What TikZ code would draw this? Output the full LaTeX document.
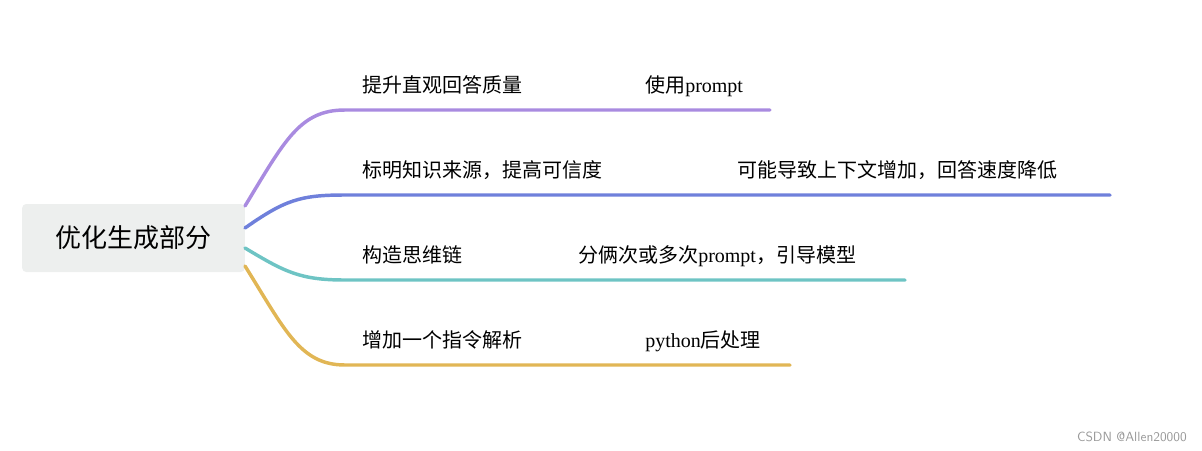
\documentclass[tikz,border=0pt]{standalone}
\usepackage{fontspec}
\setmainfont{Liberation Serif}
\newfontfamily\cjk{Noto Sans CJK SC}
\begin{document}
\begin{tikzpicture}[x=0.75pt,y=-0.75pt,
  br/.style={line width=2.6pt,line cap=round},
  lab/.style={anchor=base west,inner sep=0pt,font=\fontsize{15}{18}\selectfont},
  every node/.style={}]
\useasboundingbox (0,0) rectangle (1202,450);
\definecolor{cP}{HTML}{A98BE0}
\definecolor{cB}{HTML}{6F80DB}
\definecolor{cT}{HTML}{6EC4C4}
\definecolor{cY}{HTML}{E1B655}
\definecolor{rootfill}{HTML}{EDEFEE}
\node[fill=rootfill,rounded corners=3pt,minimum width=167pt,minimum height=51pt,inner sep=0pt,font=\fontsize{19.5}{22}\selectfont\cjk] (root) at (133.5,238) {优化生成部分};
\coordinate (p0) at (245,206); \coordinate (p1) at (345,110); \coordinate (p2) at (770,110);
\coordinate (b0) at (245,228); \coordinate (b1) at (345,195); \coordinate (b2) at (1110,195);
\coordinate (t0) at (245,248); \coordinate (t1) at (345,280); \coordinate (t2) at (905,280);
\coordinate (y0) at (245,266); \coordinate (y1) at (345,365); \coordinate (y2) at (790,365);
\draw[br,cP] (p0) .. controls (285,140) and (300,110) .. (p1) -- (p2);
\draw[br,cB] (b0) .. controls (285,200) and (300,195) .. (b1) -- (b2);
\draw[br,cT] (t0) .. controls (285,272) and (300,280) .. (t1) -- (t2);
\draw[br,cY] (y0) .. controls (285,330) and (300,365) .. (y1) -- (y2);
\node[lab] (a1) at (362,92) {\cjk 提升直观回答质量};
\node[lab] (a2) at (645,92) {{\cjk 使用}prompt};
\node[lab] (b1t) at (362,177) {\cjk 标明知识来源，提高可信度};
\node[lab] (b2t) at (737,177) {\cjk 可能导致上下文增加，回答速度降低};
\node[lab] (c1) at (362,262) {\cjk 构造思维链};
\node[lab] (c2) at (578,262) {{\cjk 分俩次或多次}prompt{\cjk ，引导模型}};
\node[lab] (d1) at (362,347) {\cjk 增加一个指令解析};
\node[lab] (d2) at (645,347) {python{\cjk 后处理}};
\node[anchor=base east,inner sep=0pt,text=gray!80,font=\fontsize{10}{12}\selectfont\sffamily] (wm) at (1187,441) {CSDN @Allen20000};
\end{tikzpicture}
\end{document}
